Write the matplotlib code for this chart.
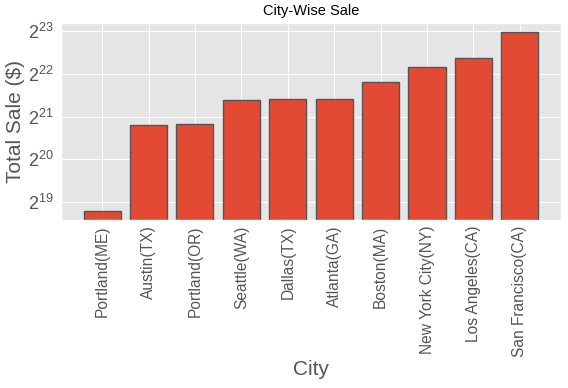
import matplotlib
matplotlib.use("Agg")
import matplotlib.pyplot as plt

plt.style.use("ggplot")
plt.rcParams['font.family'] = ['Liberation Sans', 'DejaVu Sans']

cities = ["Portland(ME)", "Austin(TX)", "Portland(OR)", "Seattle(WA)", "Dallas(TX)",
          "Atlanta(GA)", "Boston(MA)", "New York City(NY)", "Los Angeles(CA)", "San Francisco(CA)"]
sales = [449758.27, 1819581.75, 1870732.34, 2747755.48, 2767975.40,
         2795498.58, 3661642.01, 4664317.43, 5452570.80, 8262203.91]

fig, ax = plt.subplots(figsize=(5.68, 3.88), dpi=100)
fig.subplots_adjust(left=0.107, right=0.988, top=0.941, bottom=0.433)
ax.bar(cities, sales, color="#E24A33", edgecolor="#555555", linewidth=1)
ax.set_yscale('log', base=2)
ax.set_ylim(2**18.58, 2**23.19)
ax.set_title("City-Wise Sale", fontsize=10.5)
ax.set_xlabel("City", fontsize=15, labelpad=2)
ax.set_ylabel("Total Sale ($)", fontsize=15, labelpad=2)
ax.tick_params(axis='x', labelrotation=90, labelsize=11.2, length=0, pad=4)
ax.tick_params(axis='y', labelsize=13, length=0, pad=5)
ax.minorticks_off()
fig.savefig("out.png")
